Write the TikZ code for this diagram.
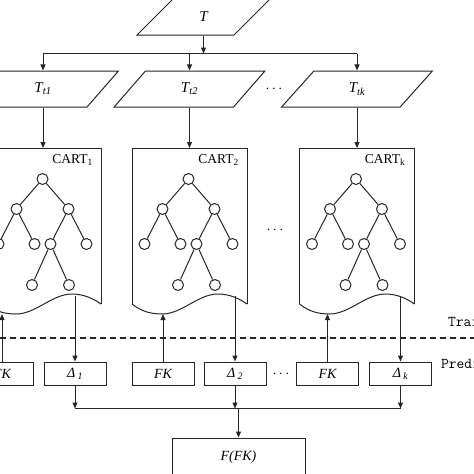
\documentclass[tikz,border=0pt]{standalone}
\usepackage{fontspec}
\setmainfont{Liberation Serif}
\usepackage{tikz}
\usetikzlibrary{positioning,calc,shapes.geometric}
\usetikzlibrary{arrows.meta}

\tikzset{
  line/.style={draw=black!85, line width=1pt},
  arr/.style={line, -{Triangle[length=6pt,width=5pt]}},
  iobox/.style={trapezium, trapezium left angle=63.4, trapezium right angle=116.6,
    trapezium stretches=true, line, minimum width=151pt, minimum height=36pt,
    inner sep=0pt, font=\fontsize{15}{17}\selectfont\itshape},
  cartdoc/.style={minimum width=115pt, minimum height=156pt, inner sep=0pt, outer sep=0pt},
  cartlabel/.style={inner sep=0pt, font=\fontsize{13.5}{15}\selectfont},
  leaf/.style={circle, line, minimum size=11pt, inner sep=0pt},
  fkbox/.style={rectangle, line, minimum width=62pt, minimum height=23pt,
    inner sep=0pt, font=\fontsize{14}{16}\selectfont\itshape},
  phase/.style={inner sep=0pt, anchor=base west, font=\fontsize{15}{17}\selectfont\ttfamily},
  gap/.style={font=\fontsize{14}{16}\selectfont},
}

% one CART block with a wavy bottom
\newcommand{\cartshape}[1]{%
  \draw[line] (#1.south east) -- (#1.north east) -- (#1.north west) -- (#1.south west);
  \begin{scope}[shift={(#1.south west)}]
    \draw[line] (0,0) .. controls (10,8) and (20,10) .. (30,10)
      .. controls (50,10) and (66,-10) .. (86,-10)
      .. controls (98,-10) and (108,-5) .. (115,0);
    \coordinate (#1-in) at (30,10);
    \coordinate (#1-out) at (100,-8);
  \end{scope}
}

\begin{document}
\begin{tikzpicture}[x=1pt, y=-1pt,
    every child node/.style={leaf}, edge from parent/.style={line},
    level 1/.style={sibling distance=52pt, level distance=30pt},
    level 2/.style={sibling distance=36pt, level distance=35pt},
    level 3/.style={sibling distance=37pt, level distance=41pt}]
  \useasboundingbox (0,0) rectangle (474,474);
  \clip (0,0) rectangle (474,474);

  % training sets
  \node[iobox, minimum width=133pt] (T) at (203.5,17) {T};
  \node[iobox] (tt1) at (43,89) {T\textsubscript{t1}};
  \node[iobox] (tt2) at (189.5,89) {T\textsubscript{t2}};
  \node[iobox] (ttk) at (357,89) {T\textsubscript{tk}};
  \node[gap] (dots1) at (274,89) {$\cdots$};

  \coordinate (split) at ($(T.center |- T.south)+(0,18)$);
  \draw[arr] (T.center |- T.south) -- (split);
  \draw[line] (split -| tt1) -- (split -| ttk);
  \foreach \t in {tt1,tt2,ttk}
    \draw[arr] (split -| \t) -- (\t.center |- \t.north);

  % CART blocks
  \node[cartdoc] (cart1) at (43.5,226) {};
  \node[cartdoc] (cart2) at (189.5,226) {};
  \node[cartdoc] (cartk) at (357,226) {};
  \node[gap] (dots2) at (275,230) {$\cdots$};
  \foreach \c in {cart1,cart2,cartk} {
    \cartshape{\c}
    \node[leaf] (\c-r) at ($(\c.north)+(-1,31)$) {}
      child { node {} child { node {} } child { node {} } }
      child { node {}
        child { node {} child { node {} } child { node {} } }
        child { node {} } };
  }
  \node[cartlabel, below left=6pt and 8pt of cart1.north east] (lab1) {CART\textsubscript{1}};
  \node[cartlabel, below left=6pt and 8pt of cart2.north east] (lab2) {CART\textsubscript{2}};
  \node[cartlabel, below left=6pt and 9pt of cartk.north east] (labk) {CART\textsubscript{k}};

  \draw[arr] (tt1.center |- tt1.south) -- (tt1.center |- cart1.north);
  \draw[arr] (tt2.center |- tt2.south) -- (tt2.center |- cart2.north);
  \draw[arr] (ttk.center |- ttk.south) -- (ttk.center |- cartk.north);

  % training / prediction border
  \draw[line, line width=1.1pt, dash pattern=on 6pt off 4pt] (0,338) -- (474,338);
  \node[phase] (train) at (448,326) {Training};
  \node[phase] (pred) at (441,368) {Prediction};

  % prediction row
  \node[fkbox] (fk1) at (2,373.5) {FK};
  \node[fkbox, right=10pt of fk1] (d1) {Δ\,\textsubscript{1}};
  \node[fkbox] (fk2) at (163,373.5) {FK};
  \node[fkbox, right=9pt of fk2] (d2) {Δ\,\textsubscript{2}};
  \node[gap] (dots3) at (281,374) {$\cdots$};
  \node[fkbox] (fk3) at (327.5,373.5) {FK};
  \node[fkbox, right=10pt of fk3] (dk) {Δ\,\textsubscript{k}};

  \draw[arr] (fk1.north) -- (fk1.north |- cart1-in);
  \draw[arr] (fk2.north) -- (fk2.north |- cart2-in);
  \draw[arr] (fk3.north) -- (fk3.north |- cartk-in);
  \draw[arr] (d1.north |- cart1-out) -- (d1.north);
  \draw[arr] (d2.north |- cart2-out) -- (d2.north);
  \draw[arr] (dk.north |- cartk-out) -- (dk.north);

  % combining
  \coordinate (merge) at ($(d2.south)+(0,23)$);
  \foreach \d in {d1,d2,dk}
    \draw[arr] (\d.south) -- (\d.south |- merge);
  \draw[line] (merge -| d1) -- (merge -| dk);
  \node[fkbox, minimum width=133pt, minimum height=38pt] (F) at (238.5,457) {F(FK)};
  \draw[arr] (merge -| F) -- (F.north);
\end{tikzpicture}
\end{document}
